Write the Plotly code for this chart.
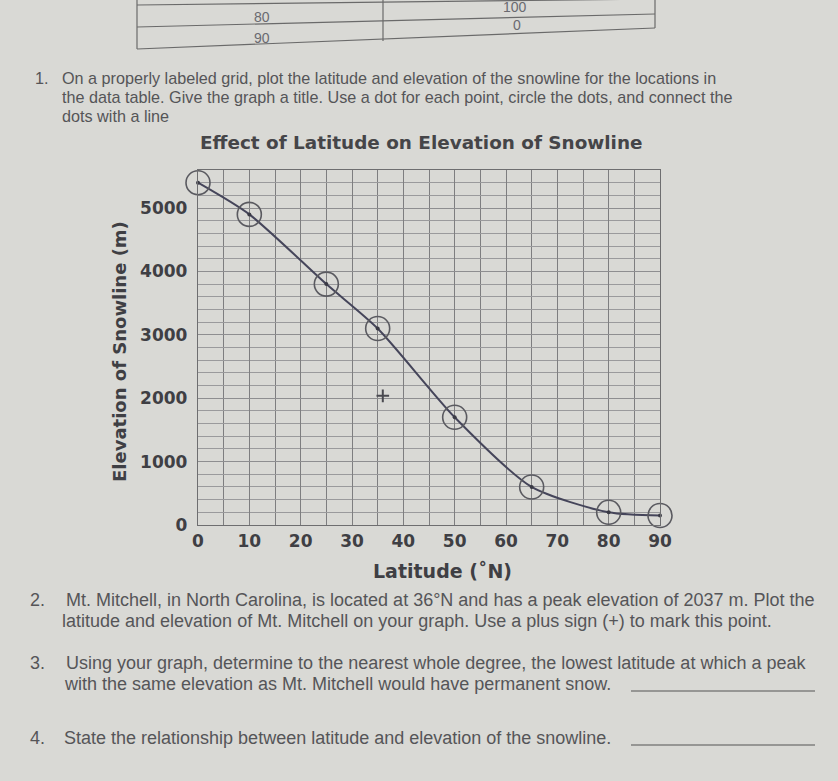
import plotly.graph_objects as go

# ---- data ----
latitude = [0, 10, 25, 35, 50, 65, 80, 90]
elevation = [5400, 4900, 3800, 3100, 1700, 600, 200, 150]
mitchell_lat = [36]
mitchell_elev = [2037]
table_lat = ["80", "90"]
table_elev = ["100", "0"]
x_ticks = [0, 10, 20, 30, 40, 50, 60, 70, 80, 90]
y_ticks = [0, 1000, 2000, 3000, 4000, 5000]

W, H = 838, 781
L, R, T, B = 198, 178, 170, 256
PW, PH = W - L - R, H - T - B
BG = "#d9d9d5"
INK = "#3f3f44"
BODY = "#555558"
CHART_FONT = "DejaVu Sans"
BODY_FONT = "Liberation Sans"


def px(x, y):
    return (x - L) / PW, (H - B - y) / PH


fig = go.Figure()

# connecting line
fig.add_trace(go.Scatter(
    x=latitude, y=elevation, mode="lines",
    line=dict(color="#45455a", width=2, shape="spline", smoothing=0.7),
    cliponaxis=False, hoverinfo="skip", showlegend=False))
# circles
fig.add_trace(go.Scatter(
    x=latitude, y=elevation, mode="markers",
    marker=dict(symbol="circle-open", size=24, color="#5a5a60",
                line=dict(width=1.6, color="#5a5a60")),
    cliponaxis=False, showlegend=False))
# dots
fig.add_trace(go.Scatter(
    x=latitude, y=elevation, mode="markers",
    marker=dict(symbol="circle", size=4, color="#3a3a45"),
    cliponaxis=False, showlegend=False))
# Mt. Mitchell plus sign
fig.add_trace(go.Scatter(
    x=mitchell_lat, y=mitchell_elev, mode="markers",
    marker=dict(symbol="cross-thin", size=9, line=dict(width=2, color="#4a4a50")),
    cliponaxis=False, showlegend=False))

annotations = []
shapes = []


def text(x, y, s, size=16, font=BODY_FONT, color=BODY, anchor="left", bold=False, angle=0):
    xx, yy = px(x, y)
    annotations.append(dict(
        x=xx, y=yy, xref="paper", yref="paper", text=f"<b>{s}</b>" if bold else s,
        showarrow=False, xanchor=anchor, yanchor="middle", textangle=angle,
        font=dict(family=font, size=size, color=color)))


def line(x0, y0, x1, y1, color="#6a6a6a", width=1.2):
    a0, b0 = px(x0, y0)
    a1, b1 = px(x1, y1)
    shapes.append(dict(type="line", xref="paper", yref="paper",
                       x0=a0, y0=b0, x1=a1, y1=b1,
                       line=dict(color=color, width=width)))


# partial data table at the top
line(137, 5, 655, -1)
line(137, 27, 655, 14)
line(137, 49, 655, 28)
line(137, 0, 137, 49)
line(383, 0, 383, 41)
line(655, -1, 655, 28)
text(262, 17, table_lat[0], size=14, anchor="center", color="#6a6a70")
text(262, 38, table_lat[1], size=14, anchor="center", color="#6a6a70")
text(515, 7, table_elev[0], size=14, anchor="center", color="#6a6a70")
text(517, 25, table_elev[1], size=14, anchor="center", color="#6a6a70")

# question 1
Q1 = 16.2
text(33, 78, "1.", size=Q1)
text(60, 78, "On a properly labeled grid, plot the latitude and elevation of the snowline for the locations in", size=Q1)
text(60, 97, "the data table. Give the graph a title. Use a dot for each point, circle the dots, and connect the", size=Q1)
text(60, 116, "dots with a line", size=Q1)

# chart title and axis titles
text(421, 142, "Effect of Latitude on Elevation of Snowline", size=18.4, font=CHART_FONT,
     color="#454548", anchor="center", bold=True)
text(119, 352, "Elevation of Snowline (m)", size=18, font=CHART_FONT, color=INK,
     anchor="center", bold=True, angle=-90)
text(442, 571, "Latitude (˚N)", size=19, font=CHART_FONT, color=INK, anchor="center", bold=True)

# questions 2-4
QS = 18
text(28, 600, "2.", size=QS)
text(64, 600, "Mt. Mitchell, in North Carolina, is located at 36°N and has a peak elevation of 2037 m. Plot the", size=QS)
text(60, 621, "latitude and elevation of Mt. Mitchell on your graph. Use a plus sign (+) to mark this point.", size=QS)
text(28, 663, "3.", size=QS)
text(64, 663, "Using your graph, determine to the nearest whole degree, the lowest latitude at which a peak", size=QS)
text(62, 684, "with the same elevation as Mt. Mitchell would have permanent snow.", size=QS)
line(631, 691, 815, 691, color="#555", width=1.2)
text(28, 738, "4.", size=QS)
text(62, 738, "State the relationship between latitude and elevation of the snowline.", size=QS)
line(631, 745, 815, 745, color="#555", width=1.2)

fig.update_layout(
    width=W, height=H,
    margin=dict(l=L, r=R, t=T, b=B, pad=0),
    paper_bgcolor=BG, plot_bgcolor=BG,
    showlegend=False,
    annotations=annotations, shapes=shapes,
    xaxis=dict(
        range=[0, 90], tickvals=x_ticks, ticktext=[str(v) for v in x_ticks],
        showgrid=True, gridcolor="#7e7e80", gridwidth=1,
        minor=dict(dtick=5, tick0=0, showgrid=True, gridcolor="#7e7e80", gridwidth=1),
        showline=True, mirror=True, linecolor="#6e6e70", linewidth=1.3,
        zeroline=False, ticks="",
        tickfont=dict(family=CHART_FONT, size=17, color=INK, weight="bold"),
    ),
    yaxis=dict(
        range=[0, 5600], tickvals=y_ticks, ticktext=[str(v) for v in y_ticks],
        showgrid=True, gridcolor="#8e8e90", gridwidth=1,
        minor=dict(dtick=200, tick0=0, showgrid=True, gridcolor="#9a9a9c", gridwidth=1),
        showline=True, mirror=True, linecolor="#6e6e70", linewidth=1.3,
        zeroline=False, ticks="", ticklabelstandoff=6,
        tickfont=dict(family=CHART_FONT, size=17, color=INK, weight="bold"),
    ),
)

fig.write_html(
    "out.html",
    config={"displayModeBar": False},
    post_script="document.body.style.margin='0';document.body.style.background='%s';" % BG,
)
